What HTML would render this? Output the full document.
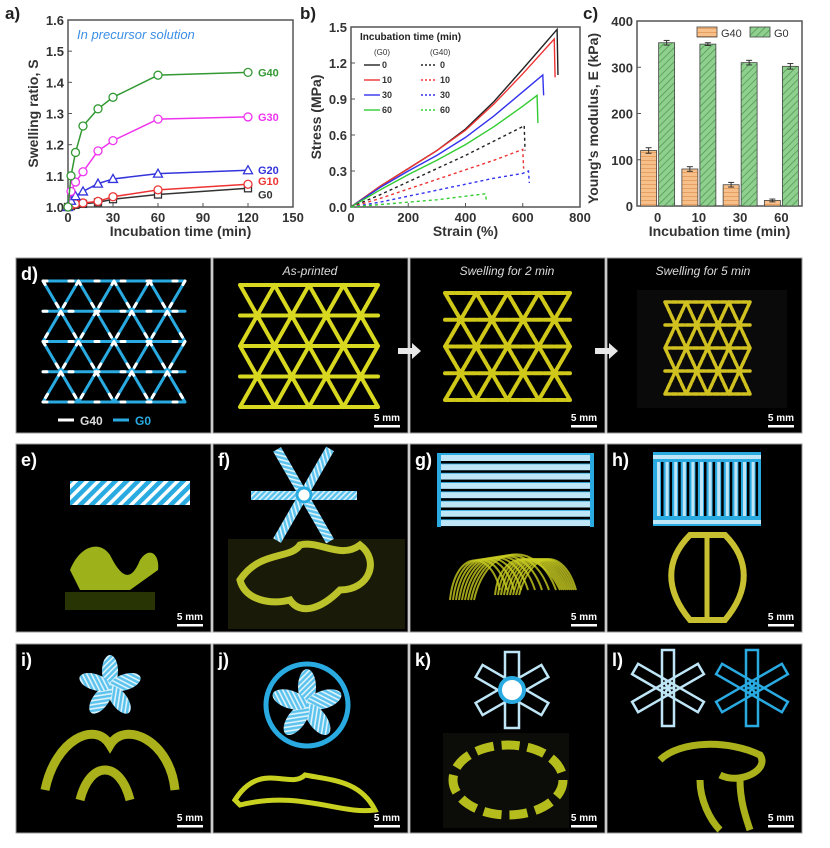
<!DOCTYPE html>
<html><head><meta charset="utf-8"><style>
body{margin:0;background:#fff;}
svg text{font-family:"Liberation Sans",sans-serif;}
</style></head><body>
<svg id="fig" width="830" height="843" viewBox="0 0 830 843" xmlns="http://www.w3.org/2000/svg">
<defs>
<pattern id="hatchG" width="5" height="5" patternUnits="userSpaceOnUse" patternTransform="rotate(45)"><rect width="5" height="5" fill="#8fcf8f"/><line x1="0" y1="0" x2="0" y2="5" stroke="#4d9a4d" stroke-width="1.5"/></pattern>
<pattern id="hatchO" width="4" height="4" patternUnits="userSpaceOnUse"><rect width="4" height="4" fill="#f7c08a"/><line x1="0" y1="0" x2="4" y2="0" stroke="#d98b48" stroke-width="1.2"/></pattern>
<pattern id="stripeB" width="8" height="8" patternUnits="userSpaceOnUse" patternTransform="rotate(45)"><rect width="8" height="8" fill="#29abe2"/><rect width="3.5" height="8" fill="#fff"/></pattern>
<pattern id="stripeB2" width="4" height="4" patternUnits="userSpaceOnUse" patternTransform="rotate(45)"><rect width="4" height="4" fill="#5cc3ee"/><rect width="1.6" height="4" fill="#dff3fb"/></pattern>
</defs>
<g id="charts"></g>
<g id="panels"></g>
</svg>
<script>
// ---------- Chart a data ----------
const aTimes=[0,2,5,10,20,30,60,120];
const aG40=[1.0,1.10,1.175,1.26,1.315,1.352,1.423,1.432];
const aG30=[1.0,1.05,1.08,1.113,1.18,1.213,1.282,1.289];
const aG20=[1.0,1.02,1.035,1.05,1.075,1.09,1.107,1.118];
const aG10=[1.0,1.005,1.01,1.013,1.018,1.033,1.055,1.073];
const aG0=[1.0,1.003,1.007,1.01,1.015,1.025,1.04,1.06];
const aXTicks=[0,30,60,90,120,150];
const aYTicks=[1.0,1.1,1.2,1.3,1.4,1.5,1.6];
// ---------- Chart b data ----------
const bStrain=[0,100,200,300,400,500,600];
const bG0_0=[0,0.17,0.32,0.47,0.65,0.88,1.15];
const bG0_10=[0,0.17,0.32,0.47,0.64,0.86,1.11];
const bG0_30=[0,0.16,0.30,0.43,0.58,0.76,0.96];
const bG0_60=[0,0.14,0.27,0.39,0.52,0.67,0.84];
const bG40_0=[0,0.10,0.21,0.32,0.43,0.55,0.67];
const bG40_10=[0,0.07,0.15,0.23,0.31,0.39,0.47];
const bG40_30=[0,0.04,0.09,0.14,0.19,0.24,0.28];
const bG40_60=[0,0.02,0.04,0.06,0.09,0.11,0.12];
const bEnds=[[720,1.48,1.10],[710,1.40,1.08],[670,1.10,0.93],[650,0.93,0.70],[605,0.68,0.47],[600,0.48,0.32],[620,0.30,0.20],[470,0.11,0.05]];
const bXTicks=[0,200,400,600,800];
const bYTicks=[0,0.3,0.6,0.9,1.2,1.5];
// ---------- Chart c data ----------
const cCats=["0","10","30","60"];
const cG40=[120,80,46,12];
const cG0=[353,350,310,302];
const cG40err=[6,5,5,3];
const cG0err=[5,3,5,6];
const cYTicks=[0,100,200,300,400];

const NS="http://www.w3.org/2000/svg";
function mk(parent,tag,attrs,text){const e=document.createElementNS(NS,tag);for(const k in attrs)e.setAttribute(k,attrs[k]);if(text!==undefined)e.textContent=text;parent.appendChild(e);return e;}
const charts=document.getElementById('charts');

// ===== Chart a =====
(function(){
const L=68,R=293,T=20,B=207;
const x=v=>L+(v-0)/150*(R-L), y=v=>B-(v-1.0)/0.6*(B-T);
const g=mk(charts,'g',{});


mk(g,'rect',{x:L,y:T,width:R-L,height:B-T,fill:'#fff',stroke:'#555','stroke-width':1.5});
aXTicks.forEach(t=>{const tx=mk(g,'text',{x:x(t),y:B+15,'font-size':13,'font-weight':'bold','text-anchor':'middle',fill:'#333'},t.toFixed(0));mk(g,'line',{x1:x(t),x2:x(t),y1:B,y2:B-4,stroke:'#555'});});
aYTicks.forEach(t=>{const tx=mk(g,'text',{x:L-4,y:y(t)+5,'font-size':13,'font-weight':'bold','text-anchor':'end',fill:'#333'},t.toFixed(1));mk(g,'line',{x1:L,x2:L+4,y1:y(t),y2:y(t),stroke:'#555'});});
let t1=mk(g,'text',{x:(L+R)/2,y:236,'font-size':14,'font-weight':'bold','text-anchor':'middle',fill:'#333'},'Incubation time (min)');

let t2=mk(g,'text',{x:0,y:0,'font-size':14,'font-weight':'bold','text-anchor':'middle',fill:'#333',transform:`translate(38,${(T+B)/2}) rotate(-90)`},'Swelling ratio, S');

let t3=mk(g,'text',{x:77,y:39,'font-size':13,'font-style':'italic',fill:'#3a8ee6'},'In precursor solution');

let t4=mk(g,'text',{x:5,y:19,'font-size':17,'font-weight':'bold',fill:'#222'},'a)');

const ser=[[aG0,'#333','G0','sq',6],[aG10,'#e33','G10','c',-3],[aG20,'#33d','G20','tri',0],[aG30,'#e3e','G30','d',0],[aG40,'#393','G40','c',0]];
ser.forEach(([vals,col,name,m,dy])=>{
 const sg=mk(g,'g',{});
 
 
 mk(sg,'polyline',{points:aTimes.map((t,i)=>x(t)+','+y(vals[i])).join(' '),fill:'none',stroke:col,'stroke-width':1.5});
 aTimes.forEach((t,i)=>{const cx=x(t),cy=y(vals[i]);
  if(m==='sq')mk(sg,'rect',{x:cx-3.5,y:cy-3.5,width:7,height:7,fill:'#fff',stroke:col,'stroke-width':1.3});
  else if(m==='tri')mk(sg,'polygon',{points:`${cx},${cy-4.5} ${cx-4.5},${cy+3.5} ${cx+4.5},${cy+3.5}`,fill:'#fff',stroke:col,'stroke-width':1.3});
  else mk(sg,'circle',{cx:cx,cy:cy,r:4,fill:'#fff',stroke:col,'stroke-width':1.3});
 });
 const lt=mk(sg,'text',{x:x(120)+10,y:y(vals[7])+4+dy,'font-size':11,'font-weight':'bold',fill:col},name);
 
});
})();

// ===== Chart b =====
(function(){
const L=351,R=580,T=27,B=207;
const x=v=>L+v/800*(R-L), y=v=>B-v/1.5*(B-T);
const g=mk(charts,'g',{});


mk(g,'rect',{x:L,y:T,width:R-L,height:B-T,fill:'#fff',stroke:'#555','stroke-width':1.5});
bXTicks.forEach(t=>{const tx=mk(g,'text',{x:x(t),y:B+15,'font-size':13,'font-weight':'bold','text-anchor':'middle',fill:'#333'},t);mk(g,'line',{x1:x(t),x2:x(t),y1:B,y2:B-4,stroke:'#555'});});
bYTicks.forEach(t=>{const tx=mk(g,'text',{x:L-4,y:y(t)+5,'font-size':13,'font-weight':'bold','text-anchor':'end',fill:'#333'},t.toFixed(1));mk(g,'line',{x1:L,x2:L+4,y1:y(t),y2:y(t),stroke:'#555'});});
let t1=mk(g,'text',{x:(L+R)/2,y:236,'font-size':14,'font-weight':'bold','text-anchor':'middle',fill:'#333'},'Strain (%)');

let t2=mk(g,'text',{x:0,y:0,'font-size':14,'font-weight':'bold','text-anchor':'middle',fill:'#333',transform:`translate(321,${(T+B)/2}) rotate(-90)`},'Stress (MPa)');

let t4=mk(g,'text',{x:300,y:19,'font-size':17,'font-weight':'bold',fill:'#222'},'b)');

const curves=[[bG0_0,'#222',0],[bG0_10,'#e33',0],[bG0_30,'#33e',0],[bG0_60,'#3c3',0],[bG40_0,'#222',1],[bG40_10,'#e33',1],[bG40_30,'#33e',1],[bG40_60,'#3c3',1]];
curves.forEach(([vals,col,dash],k)=>{
 const e=bEnds[k];
 const pts=[];bStrain.forEach((s,i)=>{if(s<e[0])pts.push([s,vals[i]]);});
 pts.push([e[0],e[1]]);pts.push([e[0]+3,e[2]]);
 const p=mk(g,'polyline',{points:pts.map(q=>x(q[0])+','+y(q[1])).join(' '),fill:'none',stroke:col,'stroke-width':1.4,'stroke-dasharray':dash?'3,3':'none'});
 
});
const lg=mk(g,'g',{});

mk(lg,'text',{x:360,y:40,'font-size':10,'font-weight':'bold',fill:'#222'},'Incubation time (min)');
mk(lg,'text',{x:374,y:55,'font-size':8,fill:'#333'},'(G0)');
mk(lg,'text',{x:430,y:55,'font-size':8,fill:'#333'},'(G40)');
['0','10','30','60'].forEach((l,i)=>{const yy=65+i*15,c=['#222','#e33','#33e','#3c3'][i];
 mk(lg,'line',{x1:364,x2:380,y1:yy,y2:yy,stroke:c,'stroke-width':1.4});
 mk(lg,'text',{x:382,y:yy+3,'font-size':9,'font-weight':'bold',fill:'#333'},l);
 mk(lg,'line',{x1:421,x2:437,y1:yy,y2:yy,stroke:c,'stroke-width':1.4,'stroke-dasharray':'2,2'});
 mk(lg,'text',{x:440,y:yy+3,'font-size':9,'font-weight':'bold',fill:'#333'},l);
});
})();

// ===== Chart c =====
(function(){
const L=637,R=802,T=21,B=206;
const y=v=>B-v/400*(B-T);const bw=(R-L)/4;
const g=mk(charts,'g',{});


mk(g,'rect',{x:L,y:T,width:R-L,height:B-T,fill:'#fff',stroke:'#555','stroke-width':1.5});
cYTicks.forEach(t=>{const tx=mk(g,'text',{x:L-4,y:y(t)+5,'font-size':13,'font-weight':'bold','text-anchor':'end',fill:'#333'},t);mk(g,'line',{x1:L,x2:L+4,y1:y(t),y2:y(t),stroke:'#555'});});
cCats.forEach((c,i)=>{const cx=L+bw*(i+0.5);
 const tx=mk(g,'text',{x:cx,y:B+16,'font-size':13,'font-weight':'bold','text-anchor':'middle',fill:'#333'},c);
 
 const b1=mk(g,'rect',{x:cx-17,y:y(cG40[i]),width:16,height:B-y(cG40[i]),fill:'url(#hatchO)',stroke:'#444','stroke-width':0.8});
 
 const b2=mk(g,'rect',{x:cx+1,y:y(cG0[i]),width:16,height:B-y(cG0[i]),fill:'url(#hatchG)',stroke:'#444','stroke-width':0.8});
 
 [[cx-9,cG40[i],cG40err[i]],[cx+9,cG0[i],cG0err[i]]].forEach(([ex,v,e])=>{
  mk(g,'line',{x1:ex,x2:ex,y1:y(v+e),y2:y(v-e),stroke:'#333'});
  mk(g,'line',{x1:ex-3,x2:ex+3,y1:y(v+e),y2:y(v+e),stroke:'#333'});
  mk(g,'line',{x1:ex-3,x2:ex+3,y1:y(v-e),y2:y(v-e),stroke:'#333'});
 });
});
let t1=mk(g,'text',{x:(L+R)/2,y:236,'font-size':14,'font-weight':'bold','text-anchor':'middle',fill:'#333'},'Incubation time (min)');

let t2=mk(g,'text',{x:0,y:0,'font-size':14,'font-weight':'bold','text-anchor':'middle',fill:'#333',transform:`translate(598,${(T+B)/2+5}) rotate(-90)`},"Young's modulus, E (kPa)");

let t4=mk(g,'text',{x:583,y:19,'font-size':17,'font-weight':'bold',fill:'#222'},'c)');

const lg=mk(g,'g',{});

mk(lg,'rect',{x:697,y:27,width:20,height:10,fill:'url(#hatchO)',stroke:'#444','stroke-width':0.8});
mk(lg,'text',{x:721,y:37,'font-size':11,fill:'#333'},'G40');
mk(lg,'rect',{x:750,y:27,width:20,height:10,fill:'url(#hatchG)',stroke:'#444','stroke-width':0.8});
mk(lg,'text',{x:774,y:37,'font-size':11,fill:'#333'},'G0');
})();

// ===== Photo panels =====
const P=document.getElementById('panels');
const cols=[16,213,410,607], W=195;
const rows=[[258,175],[444,188],[644,189]];
const names=[['d','as-printed','swelling-2min','swelling-5min'],['e','f','g','h'],['i','j','k','l']];
const panelG={};
rows.forEach(([ry,rh],r)=>cols.forEach((cx,c)=>{
 const g=mk(P,'g',{});
 
 
 mk(g,'rect',{x:cx,y:ry,width:W,height:rh,fill:'#000',stroke:'#999','stroke-width':1});
 panelG[r+'-'+c]=[g,cx,ry,rh];
}));
function label(k,txt){const [g,cx,ry]=panelG[k];const t=mk(g,'text',{x:cx+5,y:ry+22,'font-size':18,'font-weight':'bold',fill:'#fff'},txt);}
function scale(k){const [g,cx,ry,rh]=panelG[k];const t=mk(g,'text',{x:cx+W-8,y:ry+rh-12,'font-size':10,'font-weight':'bold',fill:'#fff','text-anchor':'end'},'5 mm');mk(g,'rect',{x:cx+W-34,y:ry+rh-8,width:26,height:2.5,fill:'#fff'});}
function lattice(g,x0,y0,w,h,col,sw,wob){
 const n=4,s=w/n,rh=h/4;let d='';
 for(let r=0;r<=4;r++){const yy=y0+r*rh;d+=`M${x0},${yy}L${x0+w},${yy}`;}
 for(let r=0;r<4;r++){const ya=y0+r*rh,yb=ya+rh;const offA=(r%2)?s/2:0;
  for(let k=-1;k<=n;k++){const xa=x0+offA+k*s;
   [[xa,ya,xa-s/2,yb],[xa,ya,xa+s/2,yb]].forEach(([a,b,c2,d2])=>{if(a>=x0-1&&a<=x0+w+1&&c2>=x0-1&&c2<=x0+w+1)d+=`M${a},${b}L${c2},${d2}`;});
  }}
 const p=mk(g,'path',{d:d,fill:'none',stroke:col,'stroke-width':sw,'stroke-linecap':'round'});
 if(wob)p.setAttribute('stroke-dasharray',wob);
 return p;
}
// Row 1
label('0-0','d)');
{const [g]=panelG['0-0'];let p=lattice(g,43,281,142,121,'#29abe2',3);
 p=lattice(g,43,281,142,121,'#ffffff',3,'4,22');
 mk(g,'line',{x1:58,x2:74,y1:420,y2:420,stroke:'#fff','stroke-width':3});
 mk(g,'text',{x:80,y:425,'font-size':12,'font-weight':'bold',fill:'#ddd'},'G40');
 mk(g,'line',{x1:113,x2:129,y1:420,y2:420,stroke:'#29abe2','stroke-width':3});
 mk(g,'text',{x:135,y:425,'font-size':12,'font-weight':'bold',fill:'#29abe2'},'G0');}
{const [g]=panelG['0-1'];let p=lattice(g,240,285,138,122,'#d8d820',4);
 mk(g,'text',{x:310,y:275,'font-size':12,'font-style':'italic',fill:'#ddd','text-anchor':'middle'},'As-printed');}
{const [g]=panelG['0-2'];let p=lattice(g,445,293,125,107,'#d0c818',4,'9,2');
 mk(g,'text',{x:507,y:275,'font-size':12,'font-style':'italic',fill:'#ddd','text-anchor':'middle'},'Swelling for 2 min');}
{const [g]=panelG['0-3'];mk(g,'rect',{x:637,y:290,width:150,height:118,fill:'#0a0a0a'});
 let p=lattice(g,665,302,85,92,'#d0c020',3.5,'5,2');
 mk(g,'text',{x:703,y:275,'font-size':12,'font-style':'italic',fill:'#ddd','text-anchor':'middle'},'Swelling for 5 min');}
// arrows
[[398,351],[595,351]].forEach(([ax,ay])=>{const a=mk(P,'polygon',{points:`${ax},${ay-3} ${ax+14},${ay-3} ${ax+14},${ay-8} ${ax+23},${ay} ${ax+14},${ay+8} ${ax+14},${ay+3} ${ax},${ay+3}`,fill:'#e8e8e8'});});
['0-1','0-2','0-3','1-0','1-1','1-2','1-3','2-0','2-1','2-2','2-3'].forEach(scale);
// Row 2
label('1-0','e)');label('1-1','f)');label('1-2','g)');label('1-3','h)');
{const [g]=panelG['1-0'];const r=mk(g,'rect',{x:70,y:481,width:120,height:24,fill:'url(#stripeB)'});
 mk(g,'path',{d:'M70,570 C80,545 100,540 110,555 C120,575 130,585 140,560 C150,545 160,555 158,570 L130,590 L80,590 Z',fill:'#b8d020',opacity:0.85});
 mk(g,'rect',{x:65,y:592,width:90,height:18,fill:'#3a4a05',opacity:0.7});}
{const [g]=panelG['1-1'];mk(g,'rect',{x:228,y:539,width:177,height:90,fill:'#1a1a08'});
 const d1=mk(g,'g',{});
 [0,60,120].forEach(a=>mk(d1,'rect',{x:251,y:491,width:106,height:9,fill:'url(#stripeB2)',transform:`rotate(${a} 304 495)`}));
 mk(d1,'circle',{cx:304,cy:495,r:7,fill:'#fff',stroke:'#29abe2','stroke-width':3});
 mk(g,'path',{d:'M240,580 C260,550 290,560 300,545 C320,540 340,560 360,545 C380,560 370,590 340,590 C320,610 300,615 290,600 C270,605 245,600 240,580Z',fill:'none',stroke:'#d8e030','stroke-width':7,opacity:0.85});}
{const [g]=panelG['1-2'];const d1=mk(g,'g',{});
 mk(d1,'rect',{x:437,y:453,width:157,height:74,fill:'#29abe2'});
 for(let i=0;i<8;i++){mk(d1,'rect',{x:441,y:455+i*9.3,width:149,height:6,fill:'#bfe6f7'});mk(d1,'rect',{x:441,y:461+i*9.3,width:149,height:2.5,fill:'#000'});}
 for(let i=0;i<9;i++)mk(g,'path',{d:`M${450+i*3},600 C${455+i*4},${550-i} ${490+i*6},${548-i} ${500+i*7},590`,fill:'none',stroke:'#c8cc20','stroke-width':2,opacity:0.8});
 for(let i=0;i<9;i++)mk(g,'path',{d:`M${495+i*3},595 C${500+i*4},${548} ${540+i*3},${548} ${560+i*2},590`,fill:'none',stroke:'#c8cc20','stroke-width':2,opacity:0.8});}
{const [g]=panelG['1-3'];const d1=mk(g,'g',{});
 mk(d1,'rect',{x:653,y:452,width:108,height:74,fill:'#29abe2'});
 for(let i=0;i<12;i++){mk(d1,'rect',{x:657+i*8.6,y:462,width:3,height:54,fill:'#bfe6f7'});mk(d1,'rect',{x:661+i*8.6,y:462,width:2.5,height:54,fill:'#000'});}
 mk(d1,'rect',{x:653,y:455,width:108,height:4,fill:'#bfe6f7'});mk(d1,'rect',{x:653,y:520,width:108,height:4,fill:'#bfe6f7'});
 mk(g,'path',{d:'M690,535 C665,560 665,590 690,620 L725,620 C750,590 750,560 725,535 Z',fill:'none',stroke:'#c8c030','stroke-width':6});
 mk(g,'path',{d:'M707,535 L707,620',stroke:'#c8c030','stroke-width':5});}
// Row 3
label('2-0','i)');label('2-1','j)');label('2-2','k)');label('2-3','l)');
function petals(g,cx,cy,n,len,wd,fill){for(let i=0;i<n;i++)mk(g,'ellipse',{cx:cx,cy:cy-len/2,rx:wd,ry:len/2,fill:fill,transform:`rotate(${i*360/n} ${cx} ${cy})`});}
{const [g]=panelG['2-0'];const d1=mk(g,'g',{});
 petals(d1,110,687,5,32,8,'url(#stripeB2)');
 mk(g,'path',{d:'M45,790 C55,740 95,720 110,745 C125,720 170,740 175,790 M80,800 C90,760 120,760 130,800',fill:'none',stroke:'#c8d020','stroke-width':9,opacity:0.85});}
{const [g]=panelG['2-1'];const d1=mk(g,'g',{});
 mk(d1,'circle',{cx:307,cy:705,r:41,fill:'none',stroke:'#29abe2','stroke-width':5});
 petals(d1,307,705,5,36,9,'url(#stripeB2)');
 mk(g,'path',{d:'M235,800 C260,760 290,790 305,775 C330,780 360,780 375,810 C340,815 300,790 240,805Z',fill:'none',stroke:'#c8d020','stroke-width':5});}
function asterisk(g,cx,cy,len,w,col,sw){for(let i=0;i<6;i++)mk(g,'rect',{x:cx-w/2,y:cy-len,width:w,height:len,fill:'none',stroke:col,'stroke-width':sw,transform:`rotate(${i*60} ${cx} ${cy})`});}
{const [g]=panelG['2-2'];const d1=mk(g,'g',{});
 asterisk(d1,512,690,38,14,'#bfe6f7',2.5);mk(d1,'circle',{cx:512,cy:690,r:12,fill:'#fff',stroke:'#29abe2','stroke-width':4});
 mk(g,'rect',{x:443,y:733,width:126,height:95,fill:'#0c0c08'});
 mk(g,'ellipse',{cx:508,cy:780,rx:55,ry:35,fill:'none',stroke:'#c8d020','stroke-width':9,'stroke-dasharray':'18,8',opacity:0.9});}
{const [g]=panelG['2-3'];const d1=mk(g,'g',{});
 asterisk(d1,668,688,38,12,'#bfe6f7',2.5);asterisk(d1,752,688,38,12,'#29abe2',2.5);
 mk(g,'path',{d:'M660,760 C680,740 730,740 760,755 C770,770 740,785 720,775 M700,780 C700,800 710,820 720,830 M740,780 C740,800 745,815 750,830',fill:'none',stroke:'#c8d020','stroke-width':7,opacity:0.85});}
</script>
</body></html>
